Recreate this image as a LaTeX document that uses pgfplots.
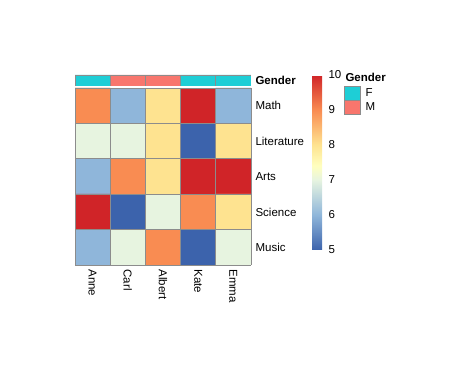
\documentclass[border=0pt]{standalone}
\usepackage{pgfplots}
\pgfplotsset{compat=1.18}
\usepackage{fontspec}
\setmainfont{Liberation Sans}
\definecolor{colF}{RGB}{30,206,214}
\definecolor{colM}{RGB}{248,118,109}
\definecolor{cellborder}{RGB}{140,140,140}
\pgfplotsset{
  colormap={rdylbu}{HTML(0)=(3C63AC) HTML(10)=(8FB6DA) HTML(20)=(E7F4E0) HTML(24)=(FFFFBF) HTML(30)=(FEE390) HTML(40)=(F98C52) HTML(50)=(D02428)}
}
\begin{document}
\begin{tikzpicture}[x=1pt,y=1pt,font=\fontsize{11.5}{13}\selectfont]
\path (0,0) rectangle (474,380);
% annotation bar
\begin{axis}[
  at={(75pt,305pt)}, anchor=north west,
  width=176pt, height=11pt, scale only axis,
  xmin=-0.5, xmax=4.5, ymin=0, ymax=1,
  axis line style={draw=none}, xtick=\empty, ytick={0.5},
  yticklabels={\textbf{Gender}}, yticklabel pos=right,
  yticklabel style={anchor=west, font=\fontsize{11.5}{13}\selectfont},
  major tick length=0pt, yticklabel shift=1pt,
  ybar, bar width=1, bar shift=0pt,
]
\addplot[fill=colF, draw=cellborder, line width=0.8pt] coordinates {(0,1) (3,1) (4,1)};
\addplot[fill=colM, draw=cellborder, line width=0.8pt] coordinates {(1,1) (2,1)};
\end{axis}
% main heatmap
\begin{axis}[
  at={(75pt,292pt)}, anchor=north west,
  width=176pt, height=177pt, scale only axis,
  xmin=-0.5, xmax=4.5, ymin=-0.5, ymax=4.5, y dir=reverse,
  axis line style={draw=none}, axis on top,
  xtick={0,...,4}, xticklabels={Anne,Carl,Albert,Kate,Emma},
  xticklabel style={rotate=-90, anchor=west, font=\fontsize{11.5}{13}\selectfont},
  ytick={0,...,4}, yticklabels={Math,Literature,Arts,Science,Music},
  yticklabel pos=right,
  yticklabel style={anchor=west, font=\fontsize{11.5}{13}\selectfont},
  minor xtick={-0.5,0.5,...,4.5}, minor ytick={-0.5,0.5,...,4.5},
  xminorgrids, yminorgrids,
  minor grid style={cellborder, line width=0.8pt},
  minor tick length=0pt,
  major tick length=0pt, yticklabel shift=1pt, xticklabel shift=1pt,
  colormap name=rdylbu, point meta min=5, point meta max=10,
  colorbar,
  colorbar style={
    at={(parent axis.north east)}, anchor=north west,
    xshift=52.5pt, yshift=13pt,
    width=10pt, height=175pt,
    axis line style={draw=none},
    ytick={5,6,7,8,9,10},
    major tick length=0pt,
    yticklabel shift=3pt,
    /pgf/number format/assume math mode=true,
    yticklabel style={font=\fontsize{11.5}{13}\selectfont},
  },
]
\addplot[matrix plot*, mesh/cols=5, point meta=explicit]
  table[meta=v] {
x y v
0 0 9
1 0 6
2 0 8
3 0 10
4 0 6
0 1 7
1 1 7
2 1 8
3 1 5
4 1 8
0 2 6
1 2 9
2 2 8
3 2 10
4 2 10
0 3 10
1 3 5
2 3 7
3 3 9
4 3 8
0 4 6
1 4 7
2 4 9
3 4 5
4 4 7
};
\end{axis}
% gender legend
\node[anchor=base west, font=\bfseries\fontsize{11.5}{13}\selectfont] at (342,298) {Gender};
\draw[cellborder, line width=0.8pt, fill=colF] (344,280) rectangle (360,294);
\draw[cellborder, line width=0.8pt, fill=colM] (344,266) rectangle (360,280);
\node[anchor=west] at (362,287) {F};
\node[anchor=west] at (362,273) {M};
\end{tikzpicture}
\end{document}
